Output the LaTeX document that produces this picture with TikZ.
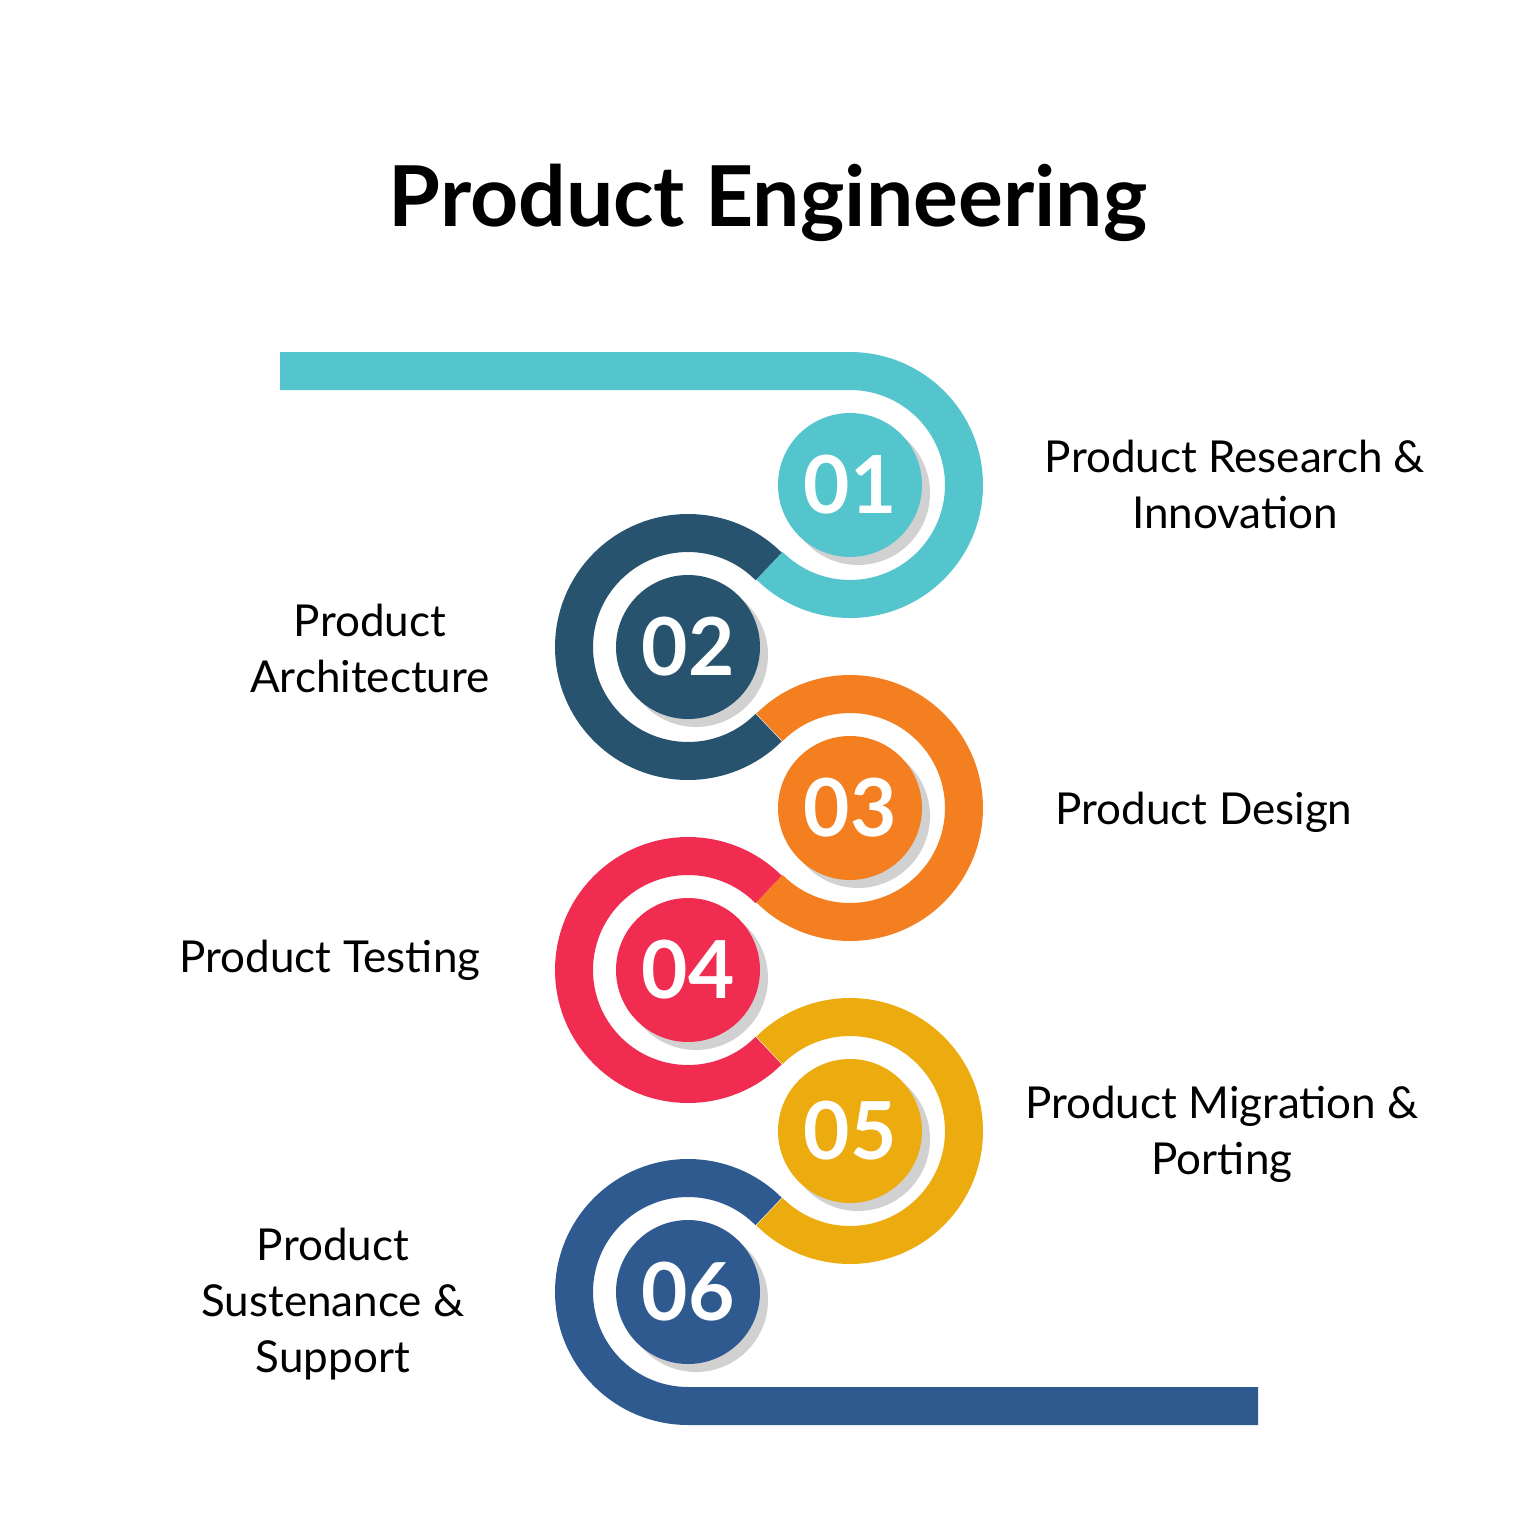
\documentclass[tikz,border=0pt]{standalone}
\usepackage{fontspec}
\setmainfont{Lato}
\usetikzlibrary{positioning}
\definecolor{cTeal}{HTML}{55C5CD}
\definecolor{cNavy}{HTML}{27536F}
\definecolor{cOrange}{HTML}{F47F20}
\definecolor{cRed}{HTML}{F02D50}
\definecolor{cYellow}{HTML}{ECAC10}
\definecolor{cBlue}{HTML}{2E5A8F}
\tikzset{
  band/.style={line width=19pt},
  disk/.style={circle, minimum size=72pt, inner sep=0pt, text=white, font=\fontsize{40}{40}\selectfont\bfseries},
  shade/.style={circle, minimum size=72pt, inner sep=0pt, fill=black, opacity=0.18},
  label/.style={align=center, font=\fontsize{22}{28}\selectfont},
}
\begin{document}
\begin{tikzpicture}[x=0.5pt,y=-0.5pt]
  \useasboundingbox[fill=white] (0,0) rectangle (1536,1536);

  % Title
  \node[font=\fontsize{42}{42}\selectfont\bfseries] (title) at (768,203) {Product Engineering};

  % Bands
  \draw[band, cTeal] (280,371) -- (850,371) arc[start angle=-90, end angle=135, radius=114];
  \draw[band, cNavy] (688,647) ++(45:114 and -114) arc[start angle=-45, end angle=-315, radius=114];
  \draw[band, cOrange] (850,808) ++(135:114 and -114) arc[start angle=-135, end angle=135, radius=114];
  \draw[band, cRed] (688,970) ++(45:114 and -114) arc[start angle=-45, end angle=-315, radius=114];
  \draw[band, cYellow] (850,1131) ++(135:114 and -114) arc[start angle=-135, end angle=135, radius=114];
  \draw[band, cBlue] (688,1292) ++(45:114 and -114) arc[start angle=-45, end angle=-270, radius=114] -- (1258,1406);

  % Number disks
  \foreach \i/\x/\y/\c in {1/850/485/cTeal, 2/688/647/cNavy, 3/850/808/cOrange,
                           4/688/970/cRed, 5/850/1131/cYellow, 6/688/1292/cBlue} {
    \node[shade] at (\x+8,\y+8) {};
    \node[disk, fill=\c] (n\i) at (\x,\y) {0\i};
  }

  % Labels
  \node[label] (l1) at (1235,484) {Product Research \&\\Innovation};
  \node[label] (l2) at (370,648) {Product\\Architecture};
  \node[label] (l3) at (1204,812) {Product Design};
  \node[label] (l4) at (330,960) {Product Testing};
  \node[label] (l5) at (1222,1134) {Product Migration \&\\Porting};
  \node[label] (l6) at (333,1304) {Product\\Sustenance \&\\Support};
\end{tikzpicture}
\end{document}
